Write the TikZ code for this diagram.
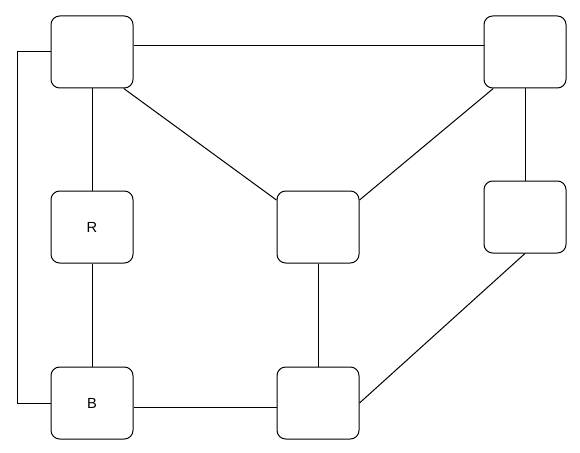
\documentclass[tikz,border=0pt]{standalone}
\usepackage{fontspec}
\setmainfont{Liberation Sans}
\usetikzlibrary{calc}

\begin{document}
\begin{tikzpicture}[x=0.75pt,y=-0.75pt,line width=0.75pt,
  box/.style={draw,rounded corners=6.5pt,minimum width=61.5pt,minimum height=54pt,inner sep=0pt,font=\fontsize{11}{13}\selectfont}]
\useasboundingbox (0,0) rectangle (580,452);
\node[box] (topleft) at (92,52) {};
\node[box] (topright) at (525,52) {};
\node[box] (red) at (92,227) {R};
\node[box] (mid) at (318,227) {};
\node[box] (right) at (525,217) {};
\node[box] (blue) at (92,403) {B};
\node[box] (bottom) at (318,403) {};
\draw ([yshift=4.5pt]topleft.east) -- ([yshift=4.5pt]topright.west);
\draw (topleft.west) -- ++(-33,0) |- (blue.west);
\draw (topleft.south) -- (red.north);
\draw (red.south) -- (blue.north);
\draw (topleft.-49) -- (mid.147);
\draw (topright.-131) -- (mid.33);
\draw (topright.south) -- (right.north);
\draw (right.south) -- (bottom.east);
\draw (mid.south) -- (bottom.north);
\draw ([yshift=-3pt]blue.east) -- ([yshift=-3pt]bottom.west);
\end{tikzpicture}
\end{document}
